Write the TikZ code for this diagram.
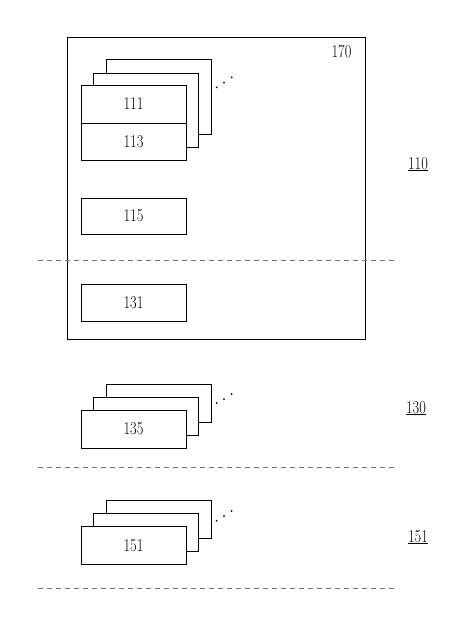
\documentclass[tikz,border=0pt]{standalone}
\usepackage{graphicx}
\newcommand{\digs}[1]{\scalebox{0.8}[1]{#1}}
\begin{document}
\begin{tikzpicture}[x=1pt,y=-1pt,
    blk/.style={draw, fill=white, line width=0.8pt, minimum width=105pt, inner sep=0pt, font=\fontsize{18}{20}\selectfont},
    lbl/.style={font=\fontsize{18}{20}\selectfont, inner sep=0pt},
    sepline/.style={black!55, line width=0.7pt, dash pattern=on 5pt off 4pt}]
    \useasboundingbox (0,0) rectangle (474,641);
    % Caja 170
        \draw[line width=0.8pt] (67,37) rectangle (365,339);
        \node[lbl] (n170) at (341.5,52) {\digs{170}};
        \node[lbl, anchor=base] (n110) at (418,169) {\digs{\underline{110}}};
    % Pila 111/113
        \node[blk, minimum height=75pt] (b111c) at (159,96.5) {};
        \node[blk, minimum height=74pt] (b111b) at (145.5,110) {};
        \node[blk, minimum height=38pt] (b111) at (133.5,104) {\digs{111}};
        \node[blk, minimum height=37pt] (b113) at (133.5,141.5) {\digs{113}};
        \fill (216.7,87.3) circle[radius=1] (224,82.7) circle[radius=1] (231.7,77.3) circle[radius=1];
    % Caja 115
        \node[blk, minimum height=36pt] (b115) at (133.5,216) {\digs{115}};
    % Separacion
        \draw[sepline] (38,260) -- (395,260);
    % Caja 131
        \node[blk, minimum height=37pt] (b131) at (133.5,302.5) {\digs{131}};
    % Pila 135
        \node[blk, minimum height=38pt] (b135c) at (159,403) {};
        \node[blk, minimum height=38pt] (b135b) at (145.5,416) {};
        \node[blk, minimum height=38pt] (b135) at (133.5,429) {\digs{135}};
        \fill (216.7,403) circle[radius=1] (224,399) circle[radius=1] (231.7,394) circle[radius=1];
        \node[lbl, anchor=base] (n130) at (416,413) {\digs{\underline{130}}};
        \draw[sepline] (38,467) -- (395,467);
    % Pila 151
        \node[blk, minimum height=38pt] (b151c) at (159,519.5) {};
        \node[blk, minimum height=38pt] (b151b) at (145.5,532.5) {};
        \node[blk, minimum height=38pt] (b151) at (133.5,545.5) {\digs{151}};
        \fill (216.7,520.7) circle[radius=1] (224,516) circle[radius=1] (231.7,511) circle[radius=1];
        \node[lbl, anchor=base] (n151) at (418,542) {\digs{\underline{151}}};
        \draw[sepline] (38,588) -- (395,588);
\end{tikzpicture}
\end{document}
